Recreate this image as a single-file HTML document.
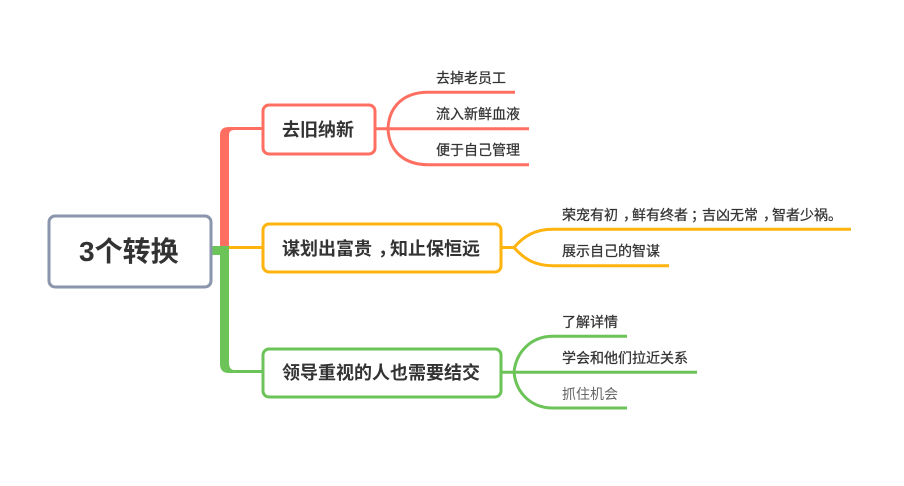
<!DOCTYPE html>
<html lang="zh">
<head>
<meta charset="utf-8">
<style>
html,body{margin:0;padding:0;background:#fff;width:904px;height:486px;overflow:hidden}
svg{display:block}
text{font-family:"Liberation Sans","Noto Sans CJK SC",sans-serif;fill:#333}
.leaf{font-size:14px;stroke:#333;stroke-width:.25px}
.node{font-size:18px;font-weight:700}
.root{font-size:28px;font-weight:700}
</style>
</head>
<body>
<svg width="904" height="486" viewBox="0 0 904 486" xmlns="http://www.w3.org/2000/svg">
<rect width="904" height="486" fill="#fff"/>
<!-- trunk -->
<path d="M220 246V135Q220 127 229 127H262V130H234Q229 130 229 135V246Z" fill="#ff6f61"/>
<path d="M212 246H229V255H212Z" fill="#6cc358"/>
<path d="M220 255H229V362Q229 370 234 370H262V373H229Q220 373 220 364Z" fill="#6cc358"/>
<path d="M229 247.5H262" stroke="#ffb30f" stroke-width="3" fill="none"/>
<!-- red leaves -->
<g fill="none" stroke="#ff6f61" stroke-width="3">
<path d="M376 128.700H529"/>
<path d="M388 128.700C389 105 405 92.300 428 92.300H515"/>
<path d="M388 128.700C389 152 405 164.700 428 164.700H529"/>
</g>
<!-- yellow leaves -->
<g fill="none" stroke="#ffb30f" stroke-width="3">
<path d="M501 247.500H514"/>
<path d="M514 247.500C524 236 535 229.300 553 229.300H851"/>
<path d="M514 247.500C524 259 535 265.700 553 265.700H669"/>
</g>
<!-- green leaves -->
<g fill="none" stroke="#6cc358" stroke-width="3">
<path d="M501 372.300H697"/>
<path d="M514 372.300C516 352 531 336.300 553 336.300H627"/>
<path d="M514 372.300C516 393 531 408 553 408H627"/>
</g>
<!-- boxes -->
<rect x="49" y="216" width="162" height="71" rx="6" fill="#fff" stroke="#8a96ab" stroke-width="3"/>
<rect x="263" y="105" width="112" height="49" rx="6" fill="#fff" stroke="#ff6f61" stroke-width="3"/>
<rect x="263" y="224" width="238" height="48" rx="6" fill="#fff" stroke="#ffb30f" stroke-width="3"/>
<rect x="263" y="349" width="238" height="48" rx="6" fill="#fff" stroke="#6cc358" stroke-width="3"/>
<!-- labels -->
<text class="root" x="79" y="261">3个转换</text>
<text class="node" x="282" y="136">去旧纳新</text>
<text class="node" x="282" y="255">谋划出富贵<tspan dx="6">，</tspan><tspan dx="-6">知止保恒远</tspan></text>
<text class="node" x="282" y="379">领导重视的人也需要结交</text>
<text class="leaf" x="436" y="83">去掉老员工</text>
<text class="leaf" x="436" y="119">流入新鲜血液</text>
<text class="leaf" x="436" y="155">便于自己管理</text>
<text class="leaf" x="562" y="220">荣宠有初<tspan dx="5">，</tspan><tspan dx="-5">鲜有终者</tspan><tspan dx="3">；</tspan><tspan dx="-3">吉凶无常</tspan><tspan dx="5">，</tspan><tspan dx="-5">智者少祸。</tspan></text>
<text class="leaf" x="562" y="256">展示自己的智谋</text>
<text class="leaf" x="562" y="327">了解详情</text>
<text class="leaf" x="562" y="363">学会和他们拉近关系</text>
<text class="leaf" x="562" y="399" style="fill:#666;stroke:none">抓住机会</text>
</svg>
</body>
</html>
